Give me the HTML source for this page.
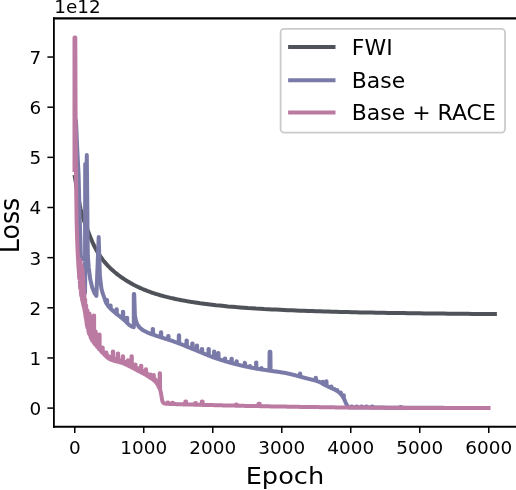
<!DOCTYPE html>
<html><head><meta charset="utf-8"><title>Loss</title>
<style>html,body{margin:0;padding:0;background:#fff;}svg{display:block}</style></head>
<body>
<svg width="516" height="490" viewBox="0 0 516 490" font-family="'DejaVu Sans', 'Liberation Sans', sans-serif" fill="#000">
<rect width="516" height="490" fill="#fff"/>
<polyline fill="none" stroke="#4f5259" stroke-width="4.0" stroke-linejoin="round" stroke-linecap="butt" points="74.5,175.0 75.5,180.7 76.5,186.7 77.5,192.7 78.5,198.5 79.5,203.8 80.5,208.6 81.5,212.8 82.5,216.3 83.5,219.3 84.5,222.0 85.5,224.5 86.5,227.1 87.5,229.7 88.5,232.3 89.5,234.9 90.5,237.5 91.5,239.9 92.5,242.3 93.5,244.5 94.5,246.5 95.5,248.4 96.5,250.3 97.5,252.0 98.5,253.6 99.5,255.2 100.5,256.6 101.5,258.0 102.5,259.4 103.5,260.7 104.5,261.9 105.5,263.1 106.5,264.2 107.5,265.3 108.5,266.4 109.5,267.4 110.5,268.4 111.5,269.3 112.5,270.2 113.5,271.1 114.5,272.0 115.5,272.8 116.5,273.6 117.5,274.4 118.5,275.2 119.5,275.9 120.5,276.6 121.5,277.3 122.5,278.0 123.5,278.7 124.5,279.4 125.5,280.0 126.5,280.6 127.5,281.3 128.5,281.9 129.5,282.4 130.5,283.0 131.5,283.6 132.5,284.1 133.5,284.7 134.5,285.2 135.5,285.7 136.5,286.2 137.5,286.7 138.5,287.2 139.5,287.6 140.5,288.1 141.5,288.5 142.5,289.0 143.5,289.4 144.5,289.8 145.5,290.2 146.5,290.6 147.5,291.0 148.5,291.4 149.5,291.7 150.5,292.1 151.5,292.5 152.5,292.8 153.5,293.1 154.5,293.5 155.5,293.8 156.5,294.1 157.5,294.4 158.5,294.7 159.5,295.0 160.5,295.3 161.5,295.6 162.5,295.8 163.5,296.1 164.5,296.4 165.5,296.6 166.5,296.9 167.5,297.1 168.5,297.4 169.5,297.6 170.5,297.9 171.5,298.1 172.5,298.3 173.5,298.5 174.5,298.8 175.5,299.0 176.5,299.2 177.5,299.4 178.5,299.6 179.5,299.8 180.5,300.0 181.5,300.2 182.5,300.4 183.5,300.6 184.5,300.7 185.5,300.9 186.5,301.1 187.5,301.3 188.5,301.4 189.5,301.6 190.5,301.8 191.5,301.9 192.5,302.1 193.5,302.2 194.5,302.4 195.5,302.5 196.5,302.7 197.5,302.8 198.5,303.0 199.5,303.1 200.0,303.2 204.0,303.7 208.0,304.2 212.0,304.7 216.0,305.2 220.0,305.6 224.0,306.0 228.0,306.4 232.0,306.7 236.0,307.1 240.0,307.4 244.0,307.7 248.0,308.0 252.0,308.2 256.0,308.5 260.0,308.7 264.0,309.0 268.0,309.2 272.0,309.4 276.0,309.6 280.0,309.8 284.0,310.0 288.0,310.2 292.0,310.3 296.0,310.5 300.0,310.7 304.0,310.8 308.0,311.0 312.0,311.1 316.0,311.2 320.0,311.3 324.0,311.5 328.0,311.6 332.0,311.7 336.0,311.8 340.0,311.9 344.0,312.0 348.0,312.1 352.0,312.2 356.0,312.3 360.0,312.4 364.0,312.4 368.0,312.5 372.0,312.6 376.0,312.7 380.0,312.7 384.0,312.8 388.0,312.9 392.0,312.9 396.0,313.0 400.0,313.1 404.0,313.1 408.0,313.2 412.0,313.2 416.0,313.3 420.0,313.3 424.0,313.4 428.0,313.4 432.0,313.5 436.0,313.5 440.0,313.6 444.0,313.6 448.0,313.7 452.0,313.7 456.0,313.7 460.0,313.8 464.0,313.8 468.0,313.8 472.0,313.9 476.0,313.9 480.0,313.9 484.0,314.0 488.0,314.0 492.0,314.0 496.0,314.1 496.9,314.1"/>
<polyline fill="none" stroke="#7a7aa9" stroke-width="4.0" stroke-linejoin="round" stroke-linecap="butt" points="75.0,119.0 76.0,121.0 77.3,150.0 78.6,175.0 79.6,215.0 80.4,240.0 80.8,255.0 81.4,258.8 85.5,259.5 85.2,164.0 85.0,293.0 86.8,155.0 87.8,256.0 88.8,268.0 90.2,279.0 92.2,287.5 94.4,293.0 96.4,295.8 98.7,237.0 99.9,276.0 101.4,288.5 102.6,293.0 103.1,294.4 103.6,295.7 104.1,297.1 104.6,298.5 105.1,300.0 105.6,301.5 106.1,302.8 106.6,303.7 106.7,303.9 106.8,300.1 107.1,300.1 107.2,304.4 107.6,305.2 108.1,305.9 108.6,306.5 109.1,307.1 109.6,307.6 110.1,308.1 110.2,308.4 110.3,305.6 110.7,305.6 110.8,308.6 111.1,309.1 111.6,309.5 112.1,310.0 112.6,310.5 113.1,311.0 113.6,311.4 114.1,311.8 114.6,312.3 115.1,312.7 115.6,313.1 116.1,313.5 116.3,313.8 116.4,309.2 116.8,309.2 116.8,314.0 117.1,314.3 117.6,314.7 118.1,315.1 118.6,315.5 119.1,315.9 119.6,316.3 120.1,316.7 120.6,317.1 121.1,317.5 121.6,317.9 122.1,318.3 122.6,318.7 122.8,319.0 122.9,311.8 123.2,311.8 123.3,319.3 123.6,319.5 124.1,320.0 124.6,320.4 125.1,320.9 125.6,321.3 126.1,321.8 126.6,322.4 126.8,322.6 126.8,317.8 127.2,317.8 127.2,322.9 127.6,323.4 128.1,323.9 128.6,324.4 129.1,324.9 129.6,325.3 130.1,325.6 130.6,325.9 131.1,326.2 131.6,326.4 132.1,326.6 132.6,326.8 133.1,327.0 133.6,327.1 133.8,327.2 133.8,293.9 134.2,293.9 134.9,315.1 135.6,319.3 136.4,322.1 137.3,324.2 138.5,326.1 140.0,327.9 142.0,329.4 142.6,330.1 143.1,330.3 143.6,330.5 144.1,330.8 144.6,331.0 145.1,331.3 145.6,331.5 146.1,331.8 146.6,332.0 147.1,332.3 147.6,332.5 148.1,332.8 148.6,333.0 149.1,333.2 149.6,333.4 150.1,333.6 150.6,333.8 151.1,334.0 151.6,334.2 152.1,334.3 152.6,334.5 152.7,328.9 153.0,328.9 153.1,334.6 153.6,334.9 154.1,335.0 154.6,335.2 155.1,335.4 155.6,335.6 156.1,335.7 156.6,335.9 157.1,336.1 157.6,336.2 158.1,336.4 158.6,336.5 159.1,336.7 159.6,336.9 160.1,337.0 160.6,337.2 160.8,337.3 160.9,332.2 161.2,332.2 161.3,337.4 161.6,337.5 162.1,337.7 162.6,337.8 163.1,338.0 163.6,338.1 164.1,338.3 164.6,338.5 165.1,338.6 165.6,338.8 166.1,338.9 166.6,339.1 167.1,339.2 167.6,339.4 168.1,339.6 168.2,335.9 168.5,335.9 168.6,339.7 169.1,339.9 169.6,340.1 170.1,340.2 170.6,340.4 171.1,340.6 171.6,340.7 172.1,340.9 172.6,341.1 173.1,341.2 173.6,341.4 174.1,341.6 174.6,341.8 175.1,342.0 175.6,342.1 176.1,342.3 176.6,342.5 177.1,342.7 177.6,342.9 178.1,343.1 178.6,343.3 178.7,343.3 178.8,335.3 179.1,335.3 179.2,343.4 179.6,343.7 180.1,343.8 180.6,344.0 181.1,344.2 181.6,344.4 182.1,344.6 182.6,344.8 183.1,345.0 183.6,345.2 184.1,345.4 184.6,345.6 185.1,345.9 185.6,346.1 186.1,346.3 186.4,346.4 186.5,340.4 186.8,340.4 186.9,346.6 187.1,346.7 187.6,346.9 188.1,347.1 188.6,347.3 189.1,347.5 189.6,347.7 190.1,347.9 190.6,348.1 191.1,348.3 191.6,348.5 192.1,348.7 192.2,348.8 192.2,343.4 192.6,343.4 192.7,348.9 193.1,349.1 193.6,349.3 194.1,349.5 194.6,349.7 195.1,349.9 195.6,350.1 196.1,350.3 196.6,350.5 196.7,350.6 196.8,345.5 197.1,345.5 197.2,350.7 197.6,350.9 198.1,351.1 198.6,351.4 199.1,351.6 199.6,351.8 200.1,352.0 200.6,352.2 201.1,352.4 201.6,352.6 201.8,352.7 201.8,349.1 202.2,349.1 202.2,352.8 202.6,353.0 203.1,353.2 203.6,353.5 204.1,353.7 204.6,353.9 205.1,354.1 205.6,354.3 206.1,354.5 206.6,354.7 207.1,354.9 207.6,355.1 208.1,355.3 208.4,355.5 208.5,348.9 208.8,348.9 208.9,355.6 209.1,355.7 209.6,355.9 210.1,356.1 210.6,356.3 211.1,356.5 211.6,356.7 212.1,356.9 212.6,357.1 213.1,357.3 213.6,357.4 213.9,357.6 214.0,351.6 214.3,351.6 214.4,357.7 214.6,357.8 215.1,358.0 215.6,358.1 216.1,358.3 216.6,358.5 217.1,358.6 217.6,358.8 218.1,359.0 218.2,353.0 218.5,353.0 218.6,359.1 219.1,359.3 219.6,359.5 220.1,359.6 220.6,359.8 221.1,359.9 221.6,360.1 222.1,360.3 222.6,360.4 223.1,360.6 223.6,360.7 224.1,360.9 224.6,361.0 224.8,361.1 224.8,358.6 225.2,358.6 225.2,361.2 225.6,361.3 226.1,361.5 226.6,361.6 227.1,361.8 227.6,361.9 228.1,362.1 228.6,362.2 229.1,362.4 229.6,362.5 230.1,362.6 230.6,362.8 231.1,362.9 231.3,363.0 231.4,358.7 231.8,358.7 231.8,363.1 232.1,363.2 232.6,363.3 233.1,363.4 233.6,363.6 234.1,363.7 234.6,363.8 235.1,364.0 235.6,364.1 236.1,364.2 236.4,364.3 236.5,361.2 236.8,361.2 236.9,364.4 237.1,364.5 237.6,364.6 238.1,364.7 238.6,364.9 239.1,365.0 239.6,365.1 240.1,365.2 240.6,365.3 241.1,365.5 241.6,365.6 242.1,365.7 242.6,365.8 243.1,365.9 243.6,366.0 244.1,366.2 244.6,366.3 244.7,362.8 244.8,366.3 244.8,363.4 245.2,363.4 245.2,366.4 245.6,366.5 246.1,366.6 246.6,366.7 247.1,366.8 247.6,366.9 248.1,367.0 248.6,367.1 249.1,367.2 249.6,367.3 249.7,367.4 249.8,365.9 250.1,365.9 250.2,367.4 250.6,367.5 251.1,367.6 251.6,367.7 252.1,367.8 252.6,367.9 253.1,368.0 253.6,368.1 254.1,368.2 254.6,368.3 255.1,368.4 255.6,368.5 256.0,368.6 256.1,362.4 256.3,362.4 256.4,368.6 256.6,368.7 257.1,368.7 257.6,368.8 258.1,368.9 258.6,369.0 259.1,369.1 259.6,369.1 260.1,369.2 260.6,369.3 261.1,369.4 261.2,369.4 261.4,368.1 261.6,368.1 261.8,369.5 262.1,369.5 262.6,369.6 263.1,369.7 263.6,369.8 264.1,369.8 264.6,369.9 265.1,370.0 265.6,370.1 266.1,370.1 266.6,370.2 267.1,370.3 267.6,370.4 268.1,370.4 268.6,370.5 269.1,370.6 269.4,370.7 269.6,351.8 270.4,351.8 270.6,370.8 270.6,370.8 271.1,370.9 271.6,371.0 272.1,371.0 272.6,371.1 273.1,371.2 273.6,371.2 274.1,371.3 274.6,371.4 275.1,371.4 275.6,371.5 276.1,371.6 276.6,371.6 277.1,371.7 277.6,371.8 278.1,371.8 278.6,371.9 279.1,372.0 279.6,372.1 280.1,372.1 280.6,372.2 281.1,372.3 281.6,372.4 282.1,372.4 282.6,372.5 283.1,372.6 283.6,372.7 284.1,372.8 284.6,372.9 285.1,373.0 285.6,373.1 286.1,373.1 286.6,373.2 287.1,373.4 287.6,373.5 288.1,373.6 288.6,373.7 289.1,373.8 289.6,373.9 290.1,374.0 290.6,374.1 291.1,374.3 291.6,374.4 292.1,374.5 292.6,374.6 293.1,374.8 293.6,374.9 294.1,375.0 294.6,375.1 295.1,375.3 295.6,375.4 296.1,375.5 296.6,375.7 297.1,375.8 297.6,375.9 298.1,376.1 298.6,376.2 299.1,376.3 299.6,376.5 299.9,376.6 300.0,373.6 300.2,373.6 300.4,376.7 300.6,376.8 301.1,376.9 301.6,377.0 302.1,377.2 302.6,377.3 303.1,377.4 303.6,377.6 304.1,377.7 304.6,377.8 305.1,378.0 305.6,378.1 306.1,378.2 306.6,378.4 307.1,378.5 307.6,378.6 308.1,378.7 308.6,378.9 309.1,379.0 309.6,379.1 310.1,379.2 310.6,379.3 311.1,379.5 311.6,379.6 312.1,379.7 312.6,379.8 313.1,380.0 313.6,380.1 314.1,380.2 314.6,380.4 315.1,380.5 315.6,380.7 315.7,377.7 315.9,377.7 316.1,380.8 316.1,380.8 316.6,381.0 317.1,381.1 317.6,381.3 318.1,381.5 318.6,381.7 319.1,381.8 319.6,382.0 320.1,382.3 320.6,382.5 321.1,382.8 321.6,383.1 322.1,383.4 322.4,383.6 322.5,381.8 322.8,381.8 322.9,383.8 323.1,384.0 323.6,384.3 324.1,384.6 324.6,384.8 325.1,385.1 325.6,385.3 326.1,385.6 326.1,385.6 326.2,381.2 326.5,381.2 326.6,385.8 327.1,386.0 327.6,386.3 328.1,386.5 328.6,386.8 329.1,387.0 329.6,387.3 330.1,387.5 330.6,387.7 331.1,388.0 331.1,388.0 331.2,386.6 331.5,386.6 331.6,388.2 332.1,388.4 332.6,388.6 333.1,388.9 333.6,389.1 334.1,389.4 334.2,388.9 334.4,388.9 334.6,389.5 334.6,389.6 335.1,389.8 335.6,390.1 336.1,390.4 336.6,390.7 336.9,390.9 337.1,390.1 337.3,390.1 337.4,391.1 337.6,391.3 338.1,391.6 338.6,392.0 339.1,392.4 339.6,392.9 340.1,393.4 340.4,393.8 340.6,392.4 340.8,392.4 340.9,394.1 341.1,394.4 341.6,395.0 342.1,395.6 342.6,396.3 343.1,397.2 343.4,397.8 343.5,395.3 343.8,395.3 343.9,398.3 344.1,399.0 344.6,400.0 345.1,401.2 345.6,402.5 346.1,403.7 346.6,404.7 347.1,405.4 347.6,406.0 348.1,406.6 348.6,407.0 349.1,407.4 349.6,407.4 350.1,407.4 350.6,407.4 351.1,407.4 351.3,407.4 351.4,406.6 352.2,406.6 352.3,407.4 352.6,407.4 353.1,407.4 353.6,407.4 354.1,407.4 354.6,407.4 355.1,407.4 355.6,407.4 356.1,407.4 356.2,407.5 356.3,406.6 357.1,406.6 357.2,407.5 357.6,407.5 358.1,407.5 358.6,407.5 359.1,407.5 359.6,407.5 360.1,407.5 360.6,407.5 361.1,407.5 361.2,406.6 362.0,406.6 362.1,407.5 362.6,407.5 363.1,407.5 363.6,407.5 364.1,407.5 364.6,407.5 365.1,407.5 365.6,407.5 365.9,407.5 366.0,406.6 366.8,406.6 366.9,407.5 367.1,407.5 367.6,407.5 368.1,407.5 368.6,407.5 369.1,407.5 369.6,407.5 370.1,407.6 370.6,407.6 371.1,407.6 371.6,407.6 371.7,407.6 371.8,406.6 372.6,406.6 372.7,407.6 373.1,407.6 373.6,407.6 374.1,407.6 374.6,407.6 375.1,407.6 375.6,407.6 376.1,407.6 376.6,407.6 377.1,407.6 377.6,407.6 378.1,407.6 378.6,407.6 379.1,407.6 379.6,407.6 380.1,407.6 380.6,407.6 381.1,407.6 381.6,407.6 382.1,407.6 382.6,407.6 383.1,407.6 383.6,407.6 384.1,407.6 384.6,407.6 385.1,407.7 385.6,407.7 386.1,407.7 386.6,407.7 387.1,407.7 387.6,407.7 388.1,407.7 388.6,407.7 389.1,407.7 389.6,407.7 390.1,407.7 390.6,407.7 391.1,407.7 391.6,407.7 392.1,407.7 392.6,407.7 393.1,407.7 393.6,407.7 394.1,407.7 394.6,407.7 395.1,407.7 395.6,407.7 396.1,407.7 396.6,407.7 397.1,407.7 397.6,407.7 398.1,407.7 398.6,407.7 399.1,407.7 399.6,407.7 400.1,407.7 400.2,407.7 400.3,406.9 401.1,406.9 401.2,407.7 401.6,407.7 402.1,407.7 402.6,407.7 403.1,407.7 403.6,407.7 404.1,407.7 404.6,407.8 405.1,407.8 405.6,407.8 406.1,407.8 406.6,407.8 407.1,407.8 407.6,407.8 408.1,407.8 408.6,407.8 409.1,407.8 409.6,407.8 410.1,407.8 410.6,407.8 411.1,407.8 411.6,407.8 412.1,407.8 412.6,407.8 413.1,407.8 413.6,407.8 414.1,407.8 414.6,407.8 415.1,407.8 415.6,407.8 416.1,407.8 416.6,407.8 417.1,407.8 417.6,407.8 418.1,407.8 418.6,407.8 419.1,407.8 419.6,407.8 420.1,407.8 420.6,407.8 421.1,407.8 421.6,407.8 422.1,407.8 422.6,407.8 423.1,407.8 423.6,407.8 424.1,407.8 424.6,407.8 425.1,407.8 425.6,407.8 426.1,407.8 426.6,407.8 427.1,407.8 427.6,407.8 428.1,407.8 428.6,407.8 429.1,407.8 429.6,407.8 430.1,407.8 430.6,407.8 431.1,407.8 431.6,407.8 432.1,407.8 432.6,407.8 433.1,407.8 433.6,407.8 434.1,407.8 434.6,407.8 435.1,407.8 435.6,407.8 436.1,407.8 436.6,407.8 437.1,407.8 437.6,407.8 438.1,407.8 438.6,407.8 439.1,407.8 439.6,407.8 440.1,407.8 440.6,407.8 441.1,407.8 441.6,407.8 442.1,407.8 442.6,407.8 443.1,407.8 443.6,407.8 444.1,407.9 444.6,407.9 445.1,407.9 445.6,407.9 446.1,407.9 446.6,407.9 447.1,407.9 447.6,407.9 448.1,407.9 448.6,407.9 449.1,407.9 449.6,407.9 450.1,407.9 450.6,407.9 451.1,407.9 451.6,407.9 452.1,407.9 452.6,407.9 453.1,407.9 453.6,407.9 454.1,407.9 454.6,407.9 455.1,407.9 455.6,407.9 456.1,407.9 456.6,407.9 457.1,407.9 457.6,407.9 458.1,407.9 458.6,407.9 459.1,407.9 459.6,407.9 460.1,407.9 460.6,407.9 461.1,407.9 461.6,407.9 462.1,407.9 462.6,407.9 463.1,407.9 463.6,407.9 464.1,407.9 464.6,407.9 465.1,407.9 465.6,407.9 466.1,407.9 466.6,407.9 467.1,407.9 467.6,407.9 468.1,407.9 468.6,407.9 469.1,407.9 469.6,407.9 470.1,407.9 470.6,407.9 471.1,407.9 471.6,407.9 472.1,407.9 472.6,407.9 473.1,407.9 473.6,407.9 474.1,407.9 474.6,407.9 475.1,407.9 475.6,407.9 476.1,407.9 476.6,407.9 477.1,407.9 477.6,407.9 478.1,407.9 478.6,407.9 479.1,407.9 479.6,407.9 480.1,407.9 480.6,407.9 481.1,407.9 481.6,407.9 482.1,407.9 482.6,407.9 483.1,407.9 483.6,407.9 484.1,407.9 484.6,407.9 485.1,407.9 485.6,407.9 486.1,407.9 486.6,407.9 487.1,407.9 487.6,407.9 488.1,407.9 488.6,407.9"/>
<polyline fill="none" stroke="#bb7aa1" stroke-width="4.0" stroke-linejoin="round" stroke-linecap="butt" points="74.5,172.0 74.5,37.5 75.3,37.5 75.6,120.0 76.1,182.7 76.6,219.7 77.1,238.5 77.6,251.1 78.1,260.4 78.6,268.4 79.1,275.4 79.2,278.4 79.3,259.6 79.7,259.6 79.8,281.8 80.1,286.3 80.2,288.5 80.3,261.6 80.7,261.6 80.8,290.9 81.1,294.0 81.2,295.5 81.3,265.6 81.7,265.6 81.8,297.2 82.0,299.7 82.1,269.6 82.5,269.6 82.5,301.0 82.8,302.7 82.8,275.6 83.2,275.6 83.2,303.9 83.3,305.2 83.4,285.6 83.8,285.6 83.8,306.4 84.0,307.8 84.0,293.6 84.4,293.6 84.5,309.2 84.6,310.5 84.8,311.9 84.8,299.6 85.2,299.6 85.2,313.7 85.6,316.6 85.8,318.2 85.8,305.6 86.2,305.6 86.2,320.1 86.6,323.0 87.0,326.1 87.1,310.6 87.5,310.6 87.5,327.7 88.1,328.1 88.6,332.0 89.0,333.6 89.1,313.6 89.5,313.6 89.5,334.5 90.1,333.9 90.6,337.3 90.8,337.8 90.8,317.6 91.2,317.6 91.2,338.4 91.6,339.3 92.1,338.0 92.2,340.6 92.3,316.6 92.7,316.6 92.8,341.1 93.1,339.5 93.6,342.4 93.7,342.6 93.8,315.6 94.1,315.6 94.2,343.0 94.6,343.7 95.1,342.1 95.2,344.6 95.3,331.6 95.7,331.6 95.8,344.9 96.1,343.2 96.6,346.0 97.1,344.4 97.2,346.9 97.3,335.6 97.7,335.6 97.8,347.3 98.1,345.6 98.6,348.4 99.1,346.8 99.2,349.2 99.2,334.6 99.6,334.6 99.7,349.5 100.1,347.9 100.6,350.7 101.1,349.0 101.6,351.8 102.1,350.1 102.2,352.5 102.3,347.6 102.7,347.6 102.8,352.9 103.1,351.1 103.6,353.8 104.1,352.1 104.6,354.8 105.1,353.1 105.6,355.8 106.0,356.3 106.0,352.6 106.4,352.6 106.5,356.6 106.6,356.8 107.1,355.0 107.6,357.7 108.1,355.9 108.6,358.4 109.1,356.5 109.6,359.0 110.1,357.0 110.6,359.5 111.1,357.5 111.6,359.9 112.1,357.9 112.6,360.2 112.8,360.3 112.8,351.6 113.2,351.6 113.2,360.4 113.6,360.6 114.1,358.5 114.6,360.9 115.1,358.8 115.6,361.1 116.1,359.1 116.6,361.4 117.1,359.3 117.6,361.6 117.8,361.7 117.8,353.6 118.2,353.6 118.2,361.8 118.6,361.9 119.1,359.8 119.6,362.2 120.1,360.1 120.6,362.5 121.1,360.4 121.6,362.8 122.1,360.7 122.6,363.1 122.7,363.2 122.8,356.3 123.1,356.3 123.2,363.3 123.6,363.5 124.1,361.5 124.6,363.9 125.1,361.9 125.6,364.3 126.1,362.4 126.6,364.8 127.1,362.8 127.6,365.3 127.7,365.3 127.8,360.3 128.1,360.3 128.2,365.5 128.6,365.8 129.1,363.8 129.6,366.3 130.1,364.3 130.6,366.8 131.1,364.8 131.4,367.3 131.5,356.3 131.8,356.3 131.9,367.4 132.1,365.4 132.6,367.8 133.1,365.9 133.6,368.4 134.1,366.4 134.6,368.9 135.1,369.2 135.2,364.4 135.5,364.4 135.6,369.3 136.1,367.5 136.6,369.9 137.1,368.0 137.6,370.5 138.1,368.5 138.6,371.0 139.1,369.0 139.6,371.5 140.1,369.6 140.6,372.0 140.9,372.3 141.0,365.8 141.3,365.8 141.4,372.4 141.6,372.5 142.1,370.6 142.6,373.1 143.1,371.2 143.6,373.6 144.1,371.7 144.6,374.2 145.1,372.3 145.6,374.8 145.7,374.9 145.8,369.2 146.1,369.2 146.2,375.0 146.6,375.4 147.1,373.5 147.6,376.0 148.1,374.1 148.6,376.6 149.1,374.7 149.6,377.2 150.1,377.6 150.2,374.6 150.5,374.6 150.6,377.8 151.1,376.0 151.6,378.5 152.1,376.7 152.6,379.2 153.1,377.4 153.4,380.0 153.5,375.1 153.8,375.1 153.9,380.2 154.1,378.2 154.6,380.9 155.1,379.2 155.6,381.9 156.1,380.3 156.6,383.2 157.1,381.8 157.6,384.8 158.1,383.5 158.6,386.7 159.1,387.6 159.6,388.8 159.7,373.2 160.0,373.2 160.1,389.5 160.6,391.6 161.1,394.0 161.6,397.0 162.1,400.1 162.6,401.6 163.1,402.6 163.6,403.0 164.1,403.3 164.6,403.5 165.1,403.6 165.6,403.7 166.1,403.7 166.6,403.7 167.1,403.8 167.3,403.8 167.4,402.4 168.2,402.4 168.3,403.8 168.6,403.8 169.1,403.9 169.6,403.9 170.1,403.9 170.6,403.9 171.1,403.9 171.6,404.0 172.0,404.0 172.1,402.8 172.9,402.8 173.0,404.0 173.1,404.0 173.6,404.0 174.1,404.1 174.6,404.1 175.1,404.1 175.6,404.1 176.1,404.1 176.6,404.2 177.1,404.2 177.6,404.2 178.1,404.2 178.6,404.2 179.1,404.2 179.6,404.3 180.1,404.3 180.6,404.3 181.1,404.3 181.6,404.3 182.1,404.3 182.6,404.3 183.1,404.4 183.6,404.4 184.1,404.4 184.6,404.4 185.1,404.4 185.2,404.4 185.3,401.6 186.1,401.6 186.2,404.4 186.6,404.5 187.1,404.5 187.6,404.5 188.1,404.5 188.6,404.5 189.1,404.5 189.6,404.5 190.1,404.5 190.6,404.6 191.1,404.6 191.6,404.6 192.1,404.6 192.6,404.6 193.1,404.6 193.6,404.6 194.1,404.7 194.6,404.7 195.1,404.7 195.2,403.0 196.0,403.0 196.1,404.7 196.6,404.7 197.1,404.7 197.6,404.7 198.1,404.8 198.6,404.8 199.1,404.8 199.6,404.8 200.1,404.8 200.6,404.8 201.1,404.8 201.6,404.8 201.7,404.8 201.8,401.6 202.6,401.6 202.7,404.9 203.1,404.9 203.6,404.9 204.1,404.9 204.6,404.9 205.1,404.9 205.6,404.9 206.1,405.0 206.6,405.0 207.1,405.0 207.6,405.0 208.1,405.0 208.6,405.0 209.1,405.0 209.6,405.0 210.1,405.1 210.6,405.1 211.1,405.1 211.6,405.1 212.1,405.1 212.6,405.1 213.1,405.1 213.6,405.1 214.1,405.2 214.6,405.2 215.1,405.2 215.6,405.2 216.1,405.2 216.6,405.2 217.1,405.2 217.6,405.2 218.1,405.3 218.6,405.3 219.1,405.3 219.6,405.3 220.1,405.3 220.6,405.3 221.1,405.3 221.6,405.3 222.1,405.3 222.6,405.4 223.1,405.4 223.6,405.4 224.1,405.4 224.6,405.4 225.1,405.4 225.6,405.4 226.1,405.4 226.6,405.5 227.1,405.5 227.6,405.5 228.1,405.5 228.6,405.5 229.1,405.5 229.6,405.5 230.1,405.5 230.6,405.5 231.1,405.6 231.6,405.6 232.1,405.6 232.6,405.6 233.1,405.6 233.6,405.6 234.1,405.6 234.6,405.6 235.1,405.6 235.6,405.7 235.9,405.7 236.0,404.6 236.8,404.6 236.9,405.7 237.1,405.7 237.6,405.7 238.1,405.7 238.6,405.7 239.1,405.7 239.6,405.7 240.1,405.8 240.6,405.8 241.1,405.8 241.6,405.8 242.1,405.8 242.6,405.8 243.1,405.8 243.6,405.8 244.1,405.8 244.6,405.9 245.1,405.9 245.6,405.9 246.1,405.9 246.6,405.9 247.1,405.9 247.6,405.9 248.1,405.9 248.6,405.9 249.1,405.9 249.6,406.0 250.1,406.0 250.6,406.0 251.1,406.0 251.6,406.0 252.1,406.0 252.6,406.0 253.1,406.0 253.6,406.0 254.1,406.0 254.6,406.1 255.1,406.1 255.6,406.1 256.1,406.1 256.6,406.1 257.1,406.1 257.6,406.1 258.1,406.1 258.4,406.1 258.5,403.8 259.7,403.8 259.8,406.2 260.1,406.2 260.6,406.2 261.1,406.2 261.6,406.2 262.1,406.2 262.6,406.2 263.1,406.2 263.6,406.2 264.1,406.2 264.6,406.3 265.1,406.3 265.6,406.3 266.1,406.3 266.6,406.3 267.1,406.3 267.6,406.3 268.1,406.3 268.6,406.3 269.1,406.3 269.6,406.3 270.1,406.4 270.6,406.4 271.1,406.4 271.6,406.4 272.1,406.4 272.6,406.4 273.1,406.4 273.6,406.4 274.1,406.4 274.6,406.4 275.1,406.4 275.6,406.5 276.1,406.5 276.6,406.5 277.1,406.5 277.6,406.5 278.1,406.5 278.6,406.5 279.1,406.5 279.6,406.5 280.1,406.5 280.6,406.5 281.1,406.6 281.6,406.6 282.1,406.6 282.6,406.6 283.1,406.6 283.6,406.6 284.1,406.6 284.6,406.6 285.1,406.6 285.6,406.6 286.1,406.6 286.6,406.6 287.1,406.7 287.6,406.7 288.1,406.7 288.6,406.7 289.1,406.7 289.6,406.7 290.1,406.7 290.6,406.7 291.1,406.7 291.6,406.7 292.1,406.7 292.6,406.7 293.1,406.7 293.6,406.8 294.1,406.8 294.6,406.8 295.1,406.8 295.6,406.8 296.1,406.8 296.6,406.8 297.1,406.8 297.6,406.8 298.1,406.8 298.6,406.8 299.1,406.8 299.6,406.9 300.1,406.9 300.6,406.9 301.1,406.9 301.6,406.9 302.1,406.9 302.6,406.9 303.1,406.9 303.6,406.9 304.1,406.9 304.6,406.9 305.1,406.9 305.6,406.9 306.1,407.0 306.6,407.0 307.1,407.0 307.6,407.0 308.1,407.0 308.6,407.0 309.1,407.0 309.6,407.0 310.1,407.0 310.6,407.0 311.1,407.0 311.6,407.0 312.1,407.0 312.6,407.1 313.1,407.1 313.6,407.1 314.1,407.1 314.6,407.1 315.1,407.1 315.6,407.1 316.1,407.1 316.6,407.1 317.1,407.1 317.6,407.1 318.1,407.1 318.6,407.1 319.1,407.1 319.6,407.2 320.1,407.2 320.6,407.2 321.1,407.2 321.6,407.2 322.1,407.2 322.6,407.2 323.1,407.2 323.6,407.2 324.1,407.2 324.6,407.2 325.1,407.2 325.6,407.2 326.1,407.2 326.6,407.2 327.1,407.3 327.6,407.3 328.1,407.3 328.6,407.3 329.1,407.3 329.6,407.3 330.1,407.3 330.6,407.3 331.1,407.3 331.6,407.3 332.1,407.3 332.6,407.3 333.1,407.3 333.6,407.3 334.1,407.3 334.6,407.3 335.1,407.4 335.6,407.4 336.1,407.4 336.6,407.4 337.1,407.4 337.6,407.4 338.1,407.4 338.6,407.4 339.1,407.4 339.6,407.4 340.1,407.4 340.6,407.4 341.1,407.4 341.6,407.4 342.1,407.4 342.6,407.4 343.1,407.4 343.6,407.4 344.1,407.4 344.6,407.5 345.1,407.5 345.6,407.5 346.1,407.5 346.6,407.5 347.1,407.5 347.6,407.5 348.1,407.5 348.6,407.5 349.1,407.5 349.6,407.5 350.1,407.5 350.6,407.5 351.1,407.5 351.6,407.5 352.1,407.5 352.6,407.5 353.1,407.5 353.6,407.5 354.1,407.5 354.6,407.5 355.1,407.5 355.6,407.5 356.1,407.5 356.6,407.6 357.1,407.6 357.6,407.6 358.1,407.6 358.6,407.6 359.1,407.6 359.6,407.6 360.1,407.6 360.6,407.6 361.1,407.6 361.6,407.6 362.1,407.6 362.6,407.6 363.1,407.6 363.6,407.6 364.1,407.6 364.6,407.6 365.1,407.6 365.6,407.6 366.1,407.6 366.6,407.6 367.1,407.6 367.6,407.6 368.1,407.6 368.6,407.6 369.1,407.6 369.6,407.6 370.1,407.7 370.6,407.7 371.1,407.7 371.6,407.7 372.1,407.7 372.6,407.7 373.1,407.7 373.6,407.7 374.1,407.7 374.6,407.7 375.1,407.7 375.6,407.7 376.1,407.7 376.6,407.7 377.1,407.7 377.6,407.7 378.1,407.7 378.6,407.7 379.1,407.7 379.6,407.7 380.1,407.7 380.6,407.7 381.1,407.7 381.6,407.7 382.1,407.7 382.6,407.7 383.1,407.7 383.6,407.7 384.1,407.7 384.6,407.7 385.1,407.8 385.6,407.8 386.1,407.8 386.6,407.8 387.1,407.8 387.6,407.8 388.1,407.8 388.6,407.8 389.1,407.8 389.6,407.8 390.1,407.8 390.6,407.8 391.1,407.8 391.6,407.8 392.1,407.8 392.6,407.8 393.1,407.8 393.6,407.8 394.1,407.8 394.6,407.8 395.1,407.8 395.6,407.8 396.1,407.8 396.6,407.8 397.1,407.8 397.6,407.8 398.1,407.8 398.6,407.8 399.1,407.8 399.6,407.8 400.1,407.8 400.6,407.8 401.1,407.8 401.6,407.8 402.1,407.8 402.6,407.8 403.1,407.8 403.6,407.8 404.1,407.8 404.6,407.9 405.1,407.9 405.6,407.9 406.1,407.9 406.6,407.9 407.1,407.9 407.6,407.9 408.1,407.9 408.6,407.9 409.1,407.9 409.6,407.9 410.1,407.9 410.6,407.9 411.1,407.9 411.6,407.9 412.1,407.9 412.6,407.9 413.1,407.9 413.6,407.9 414.1,407.9 414.6,407.9 415.1,407.9 415.6,407.9 416.1,407.9 416.6,407.9 417.1,407.9 417.6,407.9 418.1,407.9 418.6,407.9 419.1,407.9 419.6,407.9 420.1,407.9 420.6,407.9 421.1,407.9 421.6,407.9 422.1,407.9 422.6,407.9 423.1,407.9 423.6,407.9 424.1,407.9 424.6,407.9 425.1,407.9 425.6,407.9 426.1,407.9 426.6,407.9 427.1,407.9 427.6,407.9 428.1,407.9 428.6,407.9 429.1,407.9 429.6,407.9 430.1,407.9 430.6,407.9 431.1,407.9 431.6,407.9 432.1,407.9 432.6,407.9 433.1,407.9 433.6,407.9 434.1,407.9 434.6,407.9 435.1,407.9 435.6,407.9 436.1,407.9 436.6,407.9 437.1,407.9 437.6,407.9 438.1,407.9 438.6,407.9 439.1,407.9 439.6,407.9 440.1,407.9 440.6,407.9 441.1,407.9 441.6,407.9 442.1,407.9 442.6,407.9 443.1,407.9 443.6,407.9 444.1,408.0 444.6,408.0 445.1,408.0 445.6,408.0 446.1,408.0 446.6,408.0 447.1,408.0 447.6,408.0 448.1,408.0 448.6,408.0 449.1,408.0 449.6,408.0 450.1,408.0 450.6,408.0 451.1,408.0 451.6,408.0 452.1,408.0 452.6,408.0 453.1,408.0 453.6,408.0 454.1,408.0 454.6,408.0 455.1,408.0 455.6,408.0 456.1,408.0 456.6,408.0 457.1,408.0 457.6,408.0 458.1,408.0 458.6,408.0 459.1,408.0 459.6,408.0 460.1,408.0 460.6,408.0 461.1,408.0 461.6,408.0 462.1,408.0 462.6,408.0 463.1,408.0 463.6,408.0 464.1,408.0 464.6,408.0 465.1,408.0 465.6,408.0 466.1,408.0 466.6,408.0 467.1,408.0 467.6,408.0 468.1,408.0 468.6,408.0 469.1,408.0 469.6,408.0 470.1,408.0 470.6,408.0 471.1,408.0 471.6,408.0 472.1,408.0 472.6,408.0 473.1,408.0 473.6,408.0 474.1,408.0 474.6,408.0 475.1,408.0 475.6,408.0 476.1,408.0 476.6,408.0 477.1,408.0 477.6,408.0 478.1,408.0 478.6,408.0 479.1,408.0 479.6,408.0 480.1,408.0 480.6,408.0 481.1,408.0 481.6,408.0 482.1,408.0 482.6,408.0 483.1,408.0 483.6,408.0 484.1,408.0 484.6,408.0 485.1,408.0 485.6,408.0 486.1,408.0 486.6,408.0 487.1,408.0 487.6,408.0 488.1,408.0 488.6,408.0 489.1,408.0 489.6,408.0 490.1,408.0 490.5,408.0"/>
<g stroke="#000" fill="none" stroke-linecap="butt">
<path d="M53,18.4 H520" stroke-width="2.1"/>
<path d="M53,426.8 H520" stroke-width="2.1"/>
<path d="M53.9,17.4 V427.8" stroke-width="1.8"/>
</g>
<g stroke="#000" stroke-width="1.5" fill="none">
<path d="M74.75,427 V433.1"/>
<path d="M143.75,427 V433.1"/>
<path d="M212.75,427 V433.1"/>
<path d="M281.75,427 V433.1"/>
<path d="M350.75,427 V433.1"/>
<path d="M419.75,427 V433.1"/>
<path d="M488.75,427 V433.1"/>
<path d="M47.4,408.10 H53.5"/>
<path d="M47.4,357.95 H53.5"/>
<path d="M47.4,307.80 H53.5"/>
<path d="M47.4,257.65 H53.5"/>
<path d="M47.4,207.50 H53.5"/>
<path d="M47.4,157.35 H53.5"/>
<path d="M47.4,107.20 H53.5"/>
<path d="M47.4,57.05 H53.5"/>
</g>
<text transform="translate(74.75,454.1) scale(1.0,1)" font-size="18.4" text-anchor="middle">0</text>
<text transform="translate(143.75,454.1) scale(1.0,1)" font-size="18.4" text-anchor="middle">1000</text>
<text transform="translate(212.75,454.1) scale(1.0,1)" font-size="18.4" text-anchor="middle">2000</text>
<text transform="translate(281.75,454.1) scale(1.0,1)" font-size="18.4" text-anchor="middle">3000</text>
<text transform="translate(350.75,454.1) scale(1.0,1)" font-size="18.4" text-anchor="middle">4000</text>
<text transform="translate(419.75,454.1) scale(1.0,1)" font-size="18.4" text-anchor="middle">5000</text>
<text transform="translate(488.75,454.1) scale(1.0,1)" font-size="18.4" text-anchor="middle">6000</text>
<text transform="translate(41.2,414.95) scale(1.0,1)" font-size="18.4" text-anchor="end">0</text>
<text transform="translate(41.2,364.8) scale(1.0,1)" font-size="18.4" text-anchor="end">1</text>
<text transform="translate(41.2,314.65) scale(1.0,1)" font-size="18.4" text-anchor="end">2</text>
<text transform="translate(41.2,264.5) scale(1.0,1)" font-size="18.4" text-anchor="end">3</text>
<text transform="translate(41.2,214.35) scale(1.0,1)" font-size="18.4" text-anchor="end">4</text>
<text transform="translate(41.2,164.2) scale(1.0,1)" font-size="18.4" text-anchor="end">5</text>
<text transform="translate(41.2,114.05) scale(1.0,1)" font-size="18.4" text-anchor="end">6</text>
<text transform="translate(41.2,63.9) scale(1.0,1)" font-size="18.4" text-anchor="end">7</text>
<text transform="translate(54.2,12.8) scale(1.0,1)" font-size="18.4" text-anchor="start">1e12</text>
<text transform="translate(284.9,483.6) scale(1.09,1)" font-size="23.5" text-anchor="middle">Epoch</text>
<text transform="translate(19.4,225.5) rotate(-90) scale(1,1.05)" font-size="25.3" text-anchor="middle">Loss</text>
<rect x="280.6" y="28.8" width="224.4" height="103.8" rx="3.5" ry="3.5" fill="#fff" fill-opacity="0.8" stroke="#cbcbcb" stroke-width="1.8"/>
<path d="M288.1,46.9 H335.5" stroke="#4f5259" stroke-width="4" fill="none"/>
<text transform="translate(351.8,54.5) scale(1.022,1)" font-size="21.5" text-anchor="start">FWI</text>
<path d="M288.1,80.2 H335.5" stroke="#7a7aa9" stroke-width="4" fill="none"/>
<text transform="translate(351.8,87.8) scale(1.022,1)" font-size="21.5" text-anchor="start">Base</text>
<path d="M288.1,112.4 H335.5" stroke="#bb7aa1" stroke-width="4" fill="none"/>
<text transform="translate(351.8,120.0) scale(1.022,1)" font-size="21.5" text-anchor="start">Base + RACE</text>
</svg>
</body></html>
